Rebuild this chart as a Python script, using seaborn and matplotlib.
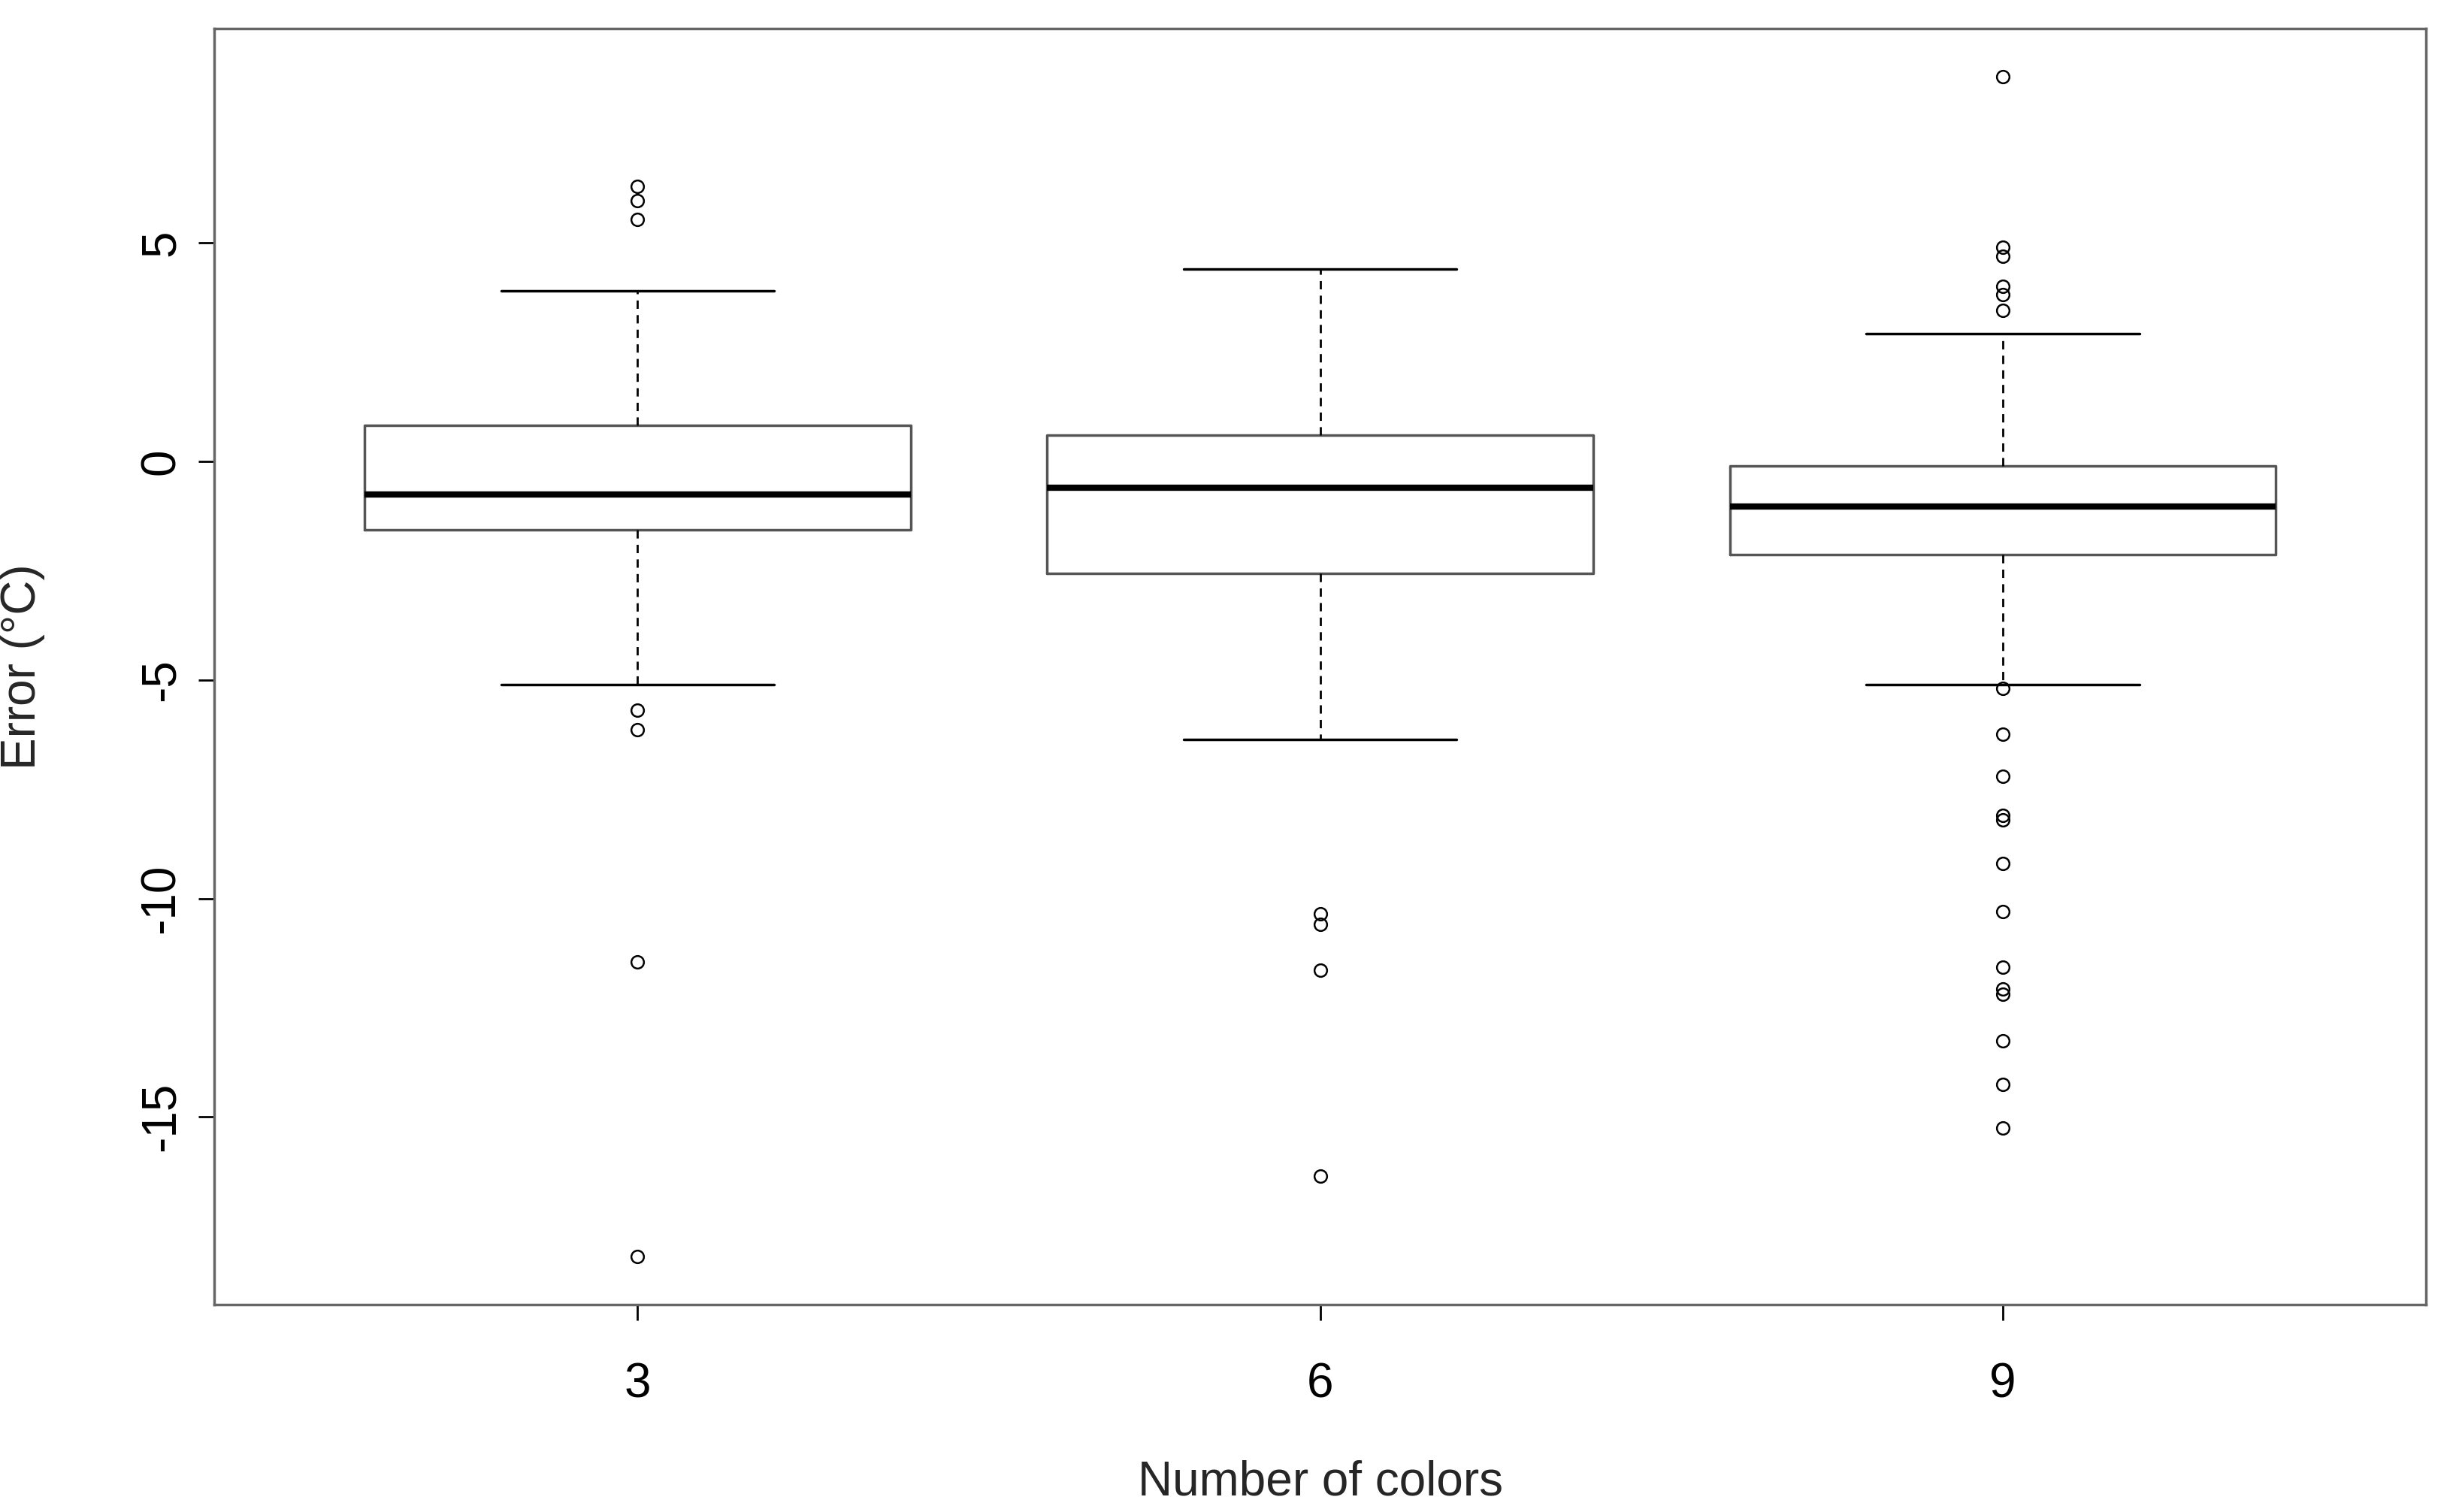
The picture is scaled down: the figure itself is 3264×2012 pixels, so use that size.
import matplotlib
matplotlib.use('Agg')
import matplotlib.pyplot as plt
import seaborn as sns

# 颜色数量分组
groups = ['3', '6', '9']

# 箱线图统计量
whislo = [-5.1, -6.36, -5.1]
q1 = [-1.57, -2.57, -2.14]
med = [-0.75, -0.6, -1.04]
q3 = [0.82, 0.6, -0.1]
whishi = [3.9, 4.4, 2.93]

fliers_3 = [6.3, 5.96, 5.54, -5.7, -6.14, -11.46, -18.2]
fliers_6 = [-10.36, -10.6, -11.64, -16.36]
fliers_9 = [8.8, 4.9, 4.7, 4.0, 3.82, 3.46, -5.2, -6.25, -7.2, -8.1, -8.2,
            -9.2, -10.3, -11.57, -12.07, -12.2, -13.25, -14.25, -15.25]

sns.set_style('white')
plt.rcParams['font.family'] = ['Liberation Sans', 'DejaVu Sans']

fig = plt.figure(figsize=(32.64, 20.12), dpi=100)
ax = fig.add_axes([0.0874, 0.137, 0.9016, 0.844])

stats = []
for i, fl in enumerate([fliers_3, fliers_6, fliers_9]):
    stats.append(dict(label=groups[i], whislo=whislo[i], q1=q1[i], med=med[i],
                      q3=q3[i], whishi=whishi[i], fliers=fl))

ax.bxp(stats, positions=[1, 2, 3], widths=0.8, patch_artist=False,
       boxprops=dict(color='#555555', linewidth=2.5),
       whiskerprops=dict(color='black', linewidth=2, linestyle=(0, (4, 3))),
       capprops=dict(color='black', linewidth=2.5),
       capwidths=0.4,
       medianprops=dict(color='black', linewidth=6),
       flierprops=dict(marker='o', markerfacecolor='none', markeredgecolor='black',
                       markersize=12, markeredgewidth=1.8))

ax.set_xlim(0.38, 3.62)
ax.set_ylim(-19.3, 9.9)
ax.set_yticks([5, 0, -5, -10, -15])
ax.set_yticklabels(['5', '0', '-5', '-10', '-15'], rotation=90, va='center')
ax.tick_params(axis='both', labelsize=46, length=15, width=2, colors='black',
               left=True, bottom=True)
ax.tick_params(axis='y', pad=14)
ax.tick_params(axis='x', pad=40)
for s in ax.spines.values():
    s.set_color('#666666')
    s.set_linewidth(2.5)

ax.set_xlabel('Number of colors', fontsize=46, labelpad=50)
ax.set_ylabel('Error (°C)', fontsize=46, labelpad=90)

fig.savefig('out.png', dpi=100, facecolor='white')
